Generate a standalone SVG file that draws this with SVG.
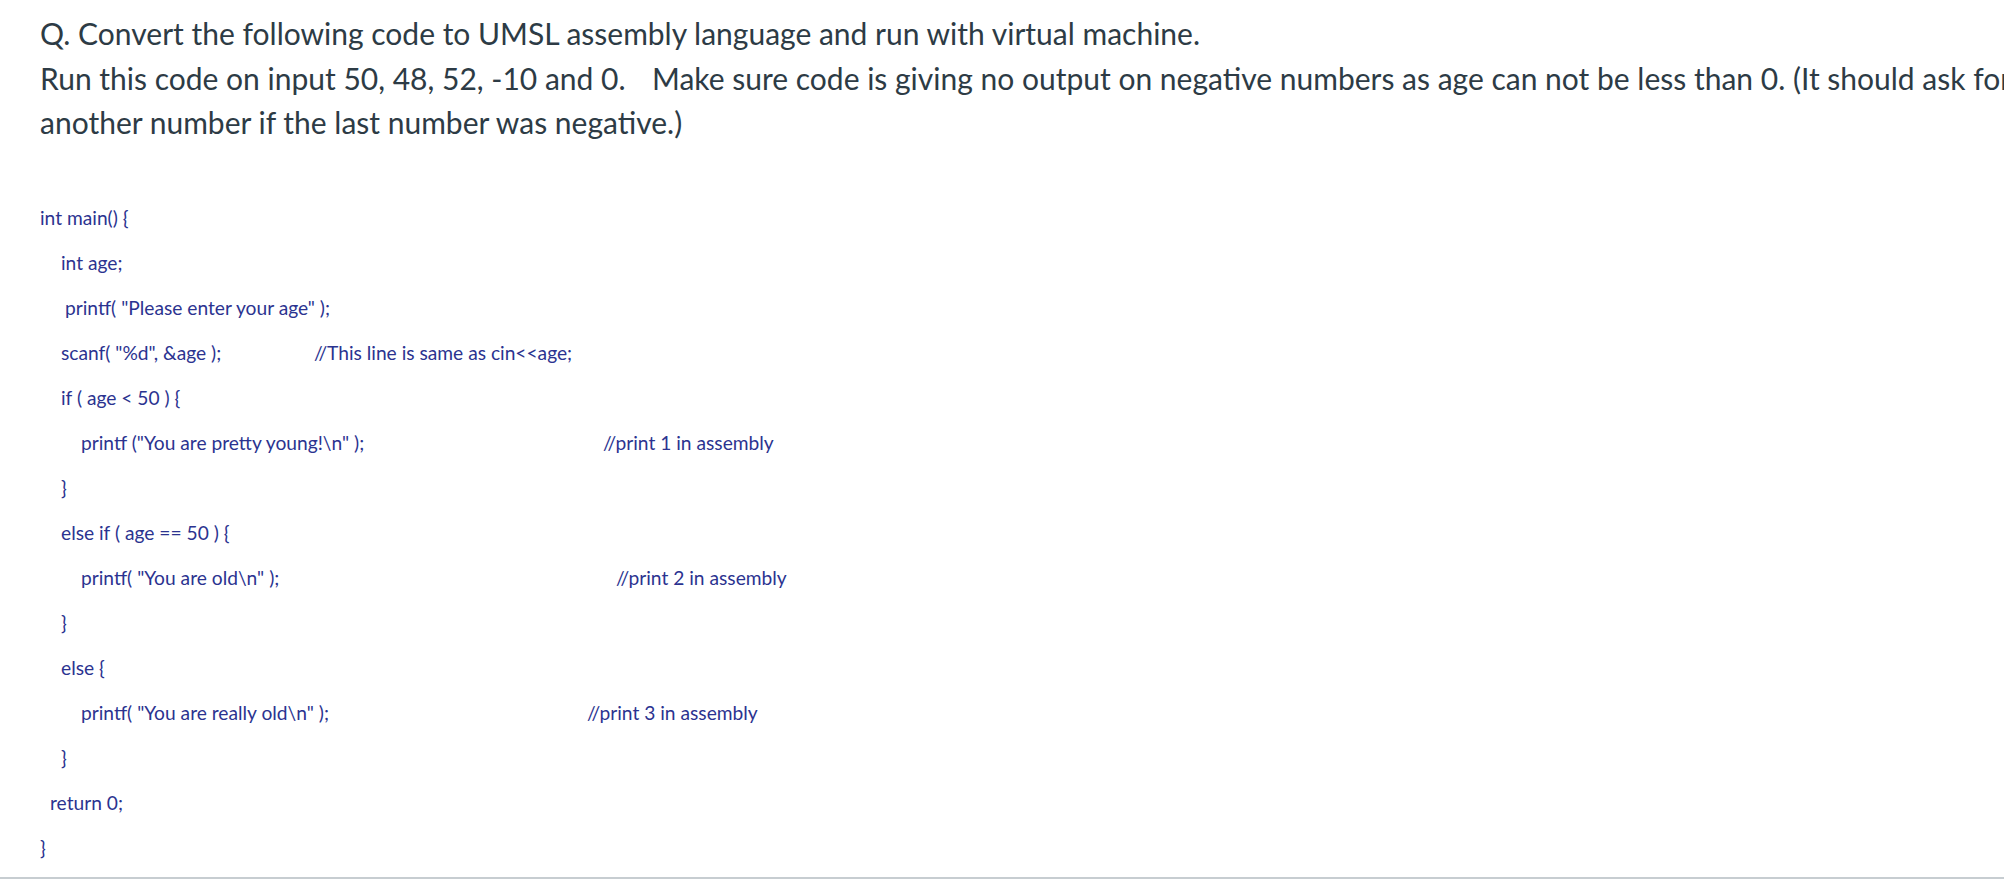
<svg xmlns="http://www.w3.org/2000/svg" width="2004" height="892" viewBox="0 0 2004 892">
<style>
.q{font-family:Lato,"Liberation Sans",sans-serif;font-size:30px;fill:#2d3b45}
.c{font-family:Lato,"Liberation Sans",sans-serif;font-size:19.2px;fill:#2b3390}
</style>
<rect width="2004" height="892" fill="#fff"/>
<g id="question">
<text class="q" x="40" y="45">Q. Convert the following code to UMSL assembly language and run with virtual machine.</text>
<text class="q" x="40" y="90">Run this code on input 50, 48, 52, -10 and 0.</text>
<text class="q" x="652" y="90">Make sure code is giving no output on negative numbers as age can not be less than 0. (It should ask for</text>
<text class="q" x="40" y="134">another number if the last number was negative.)</text>
</g>
<g id="code">
<text class="c" x="40" y="225">int main()  {</text>
<text class="c" x="61" y="270">int age;</text>
<text class="c" x="65" y="315">printf( "Please enter your age" );</text>
<text class="c" x="61" y="360">scanf( "%d", &amp;age );</text>
<text class="c" x="314" y="360">//This line is same as cin&lt;&lt;age;</text>
<text class="c" x="61" y="405">if ( age &lt; 50 ) {</text>
<text class="c" x="81" y="450">printf ("You are pretty young!\n" );</text>
<text class="c" x="603" y="450">//print 1 in assembly</text>
<text class="c" x="61" y="495">}</text>
<text class="c" x="61" y="540">else if ( age == 50 ) {</text>
<text class="c" x="81" y="585">printf( "You are old\n" );</text>
<text class="c" x="616" y="585">//print 2 in assembly</text>
<text class="c" x="61" y="630">}</text>
<text class="c" x="61" y="675">else {</text>
<text class="c" x="81" y="720">printf( "You are really old\n" );</text>
<text class="c" x="587" y="720">//print 3 in assembly</text>
<text class="c" x="61" y="765">}</text>
<text class="c" x="50" y="810">return 0;</text>
<text class="c" x="40" y="855">}</text>
</g>
<line x1="0" y1="878" x2="2004" y2="878" stroke="#c7cdd1" stroke-width="2"/>
</svg>
